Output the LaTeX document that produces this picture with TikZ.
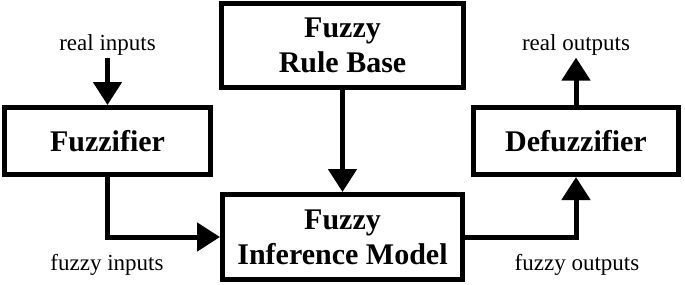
\documentclass[tikz,border=0pt]{standalone}
\usepackage{fontspec}
\setmainfont{Liberation Serif}
\usepackage{tikz}
\usetikzlibrary{arrows.meta,positioning}

\begin{document}
\begin{tikzpicture}[x=1pt,y=-1pt,
  >={Triangle[length=23pt,width=28pt]},
  block/.style={draw,line width=5pt,align=center,inner sep=0pt,
    font=\fontsize{30}{35}\selectfont\bfseries},
  lbl/.style={inner sep=2pt,font=\fontsize{23}{26}\selectfont},
  conn/.style={->,line width=5pt}]
  \useasboundingbox (0,0) rectangle (685,284);
  % blocks
  \node[block,minimum width=206pt,minimum height=67pt] (fuzzifier) at (107.5,141) {Fuzzifier};
  \node[block,minimum width=242pt,minimum height=84pt] (rulebase) at (342.5,45) {Fuzzy\\Rule Base};
  \node[block,minimum width=240pt,minimum height=85pt] (inference) at (342.5,237) {Fuzzy\\Inference Model};
  \node[block,minimum width=205pt,minimum height=67pt] (defuzzifier) at (576,141) {Defuzzifier};
  % labels
  \node[lbl] (realin) at (107.5,45) {real inputs};
  \node[lbl] (realout) at (576,45) {real outputs};
  \node[lbl] (fuzzyin) at (107,265) {fuzzy inputs};
  \node[lbl] (fuzzyout) at (577,265) {fuzzy outputs};
  % connectors
  \draw[conn] (realin.south) -- (fuzzifier.north);
  \draw[conn] (rulebase.south) -- (inference.north);
  \draw[conn] (fuzzifier.south) |- (inference.west);
  \draw[conn] (inference.east) -| (defuzzifier.south);
  \draw[conn] (defuzzifier.north) -- (realout.south);
\end{tikzpicture}
\end{document}
